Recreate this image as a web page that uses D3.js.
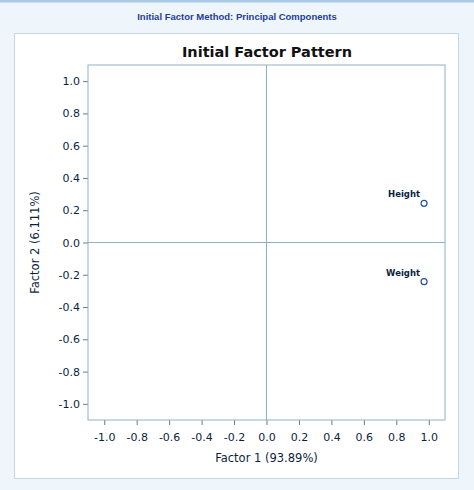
<!DOCTYPE html>
<html><head><meta charset="utf-8">
<script src="https://cdn.jsdelivr.net/npm/d3@7"></script>
<style>body{margin:0;background:#eef5fb}</style>
</head><body>
<script>
var names = ["Height", "Weight"],
  factor1 = [0.971, 0.971],
  factor2 = [0.243, -0.243],
  ticks = [-1.0, -0.8, -0.6, -0.4, -0.2, 0.0, 0.2, 0.4, 0.6, 0.8, 1.0]

var W = 474, H = 490,
  L = 88, R = 445, T = 65, B = 420,
  ink = "#0c1f3f", frame = "#8fb0c8", dot = "#2a4fa0"

var fmt = function(d) { return d.toFixed(1) }

var svg = d3.select("body").append("svg").attr("width", W).attr("height", H)
  .style("font-family", "DejaVu Sans")

svg.append("rect").attr("width", W).attr("height", H).attr("fill", "#eef5fb")
svg.append("line").attr("x1", 0).attr("x2", W).attr("y1", 1).attr("y2", 1).attr("stroke", "#a9c9e4").attr("stroke-width", 3)
svg.append("rect").attr("x", 14.5).attr("y", 33.5).attr("width", 444).attr("height", 445)
  .attr("fill", "white").attr("stroke", "#c3d7e6")

svg.append("text").attr("x", 237).attr("y", 20).attr("text-anchor", "middle")
  .attr("font-family", "Liberation Sans").attr("font-weight", "bold").attr("font-size", 9.5)
  .attr("fill", "#1d3f99").text("Initial Factor Method: Principal Components")
svg.append("text").attr("x", 267).attr("y", 57).attr("text-anchor", "middle")
  .attr("font-weight", "bold").attr("font-size", 14.5).attr("fill", "#111").text("Initial Factor Pattern")

var x = d3.scaleLinear().domain([-1.1, 1.1]).range([L, R]),
  y = d3.scaleLinear().domain([-1.1, 1.1]).range([B, T])

var xa = svg.append("g").attr("transform", "translate(0," + B + ")")
  .call(d3.axisBottom(x).tickValues(ticks).tickFormat(fmt).tickSize(5).tickSizeOuter(0))
var ya = svg.append("g").attr("transform", "translate(" + L + ",0)")
  .call(d3.axisLeft(y).tickValues(ticks).tickFormat(fmt).tickSize(5).tickSizeOuter(0))
;[xa, ya].forEach(function(a) {
  a.select(".domain").remove()
  a.selectAll("line").attr("stroke", "#777")
  a.selectAll("text").attr("font-size", 11).attr("fill", ink).attr("font-family", "DejaVu Sans")
})
xa.selectAll("text").attr("dy", "1.15em")

svg.append("rect").attr("x", L).attr("y", T).attr("width", R - L).attr("height", B - T)
  .attr("fill", "none").attr("stroke", frame)
svg.append("line").attr("x1", x(0)).attr("x2", x(0)).attr("y1", T).attr("y2", B).attr("stroke", frame)
svg.append("line").attr("x1", L).attr("x2", R).attr("y1", y(0)).attr("y2", y(0)).attr("stroke", frame)

svg.append("text").attr("x", x(0)).attr("y", 462).attr("text-anchor", "middle")
  .attr("font-size", 11.5).attr("fill", ink).text("Factor 1 (93.89%)")
svg.append("text").attr("transform", "translate(39," + y(0) + ") rotate(-90)").attr("text-anchor", "middle")
  .attr("font-size", 11.5).attr("fill", ink).text("Factor 2 (6.111%)")

var pts = svg.selectAll(".pt").data(names).enter().append("g")
pts.append("circle").attr("cx", function(d, i) { return x(factor1[i]) })
  .attr("cy", function(d, i) { return y(factor2[i]) }).attr("r", 3)
  .attr("fill", "none").attr("stroke", dot).attr("stroke-width", 1.2)
pts.append("text").attr("x", function(d, i) { return x(factor1[i]) - 4 })
  .attr("y", function(d, i) { return y(factor2[i]) - 6 }).attr("text-anchor", "end")
  .attr("font-size", 8.5).attr("font-weight", "bold").attr("fill", ink).text(function(d) { return d })
</script>
</body></html>
